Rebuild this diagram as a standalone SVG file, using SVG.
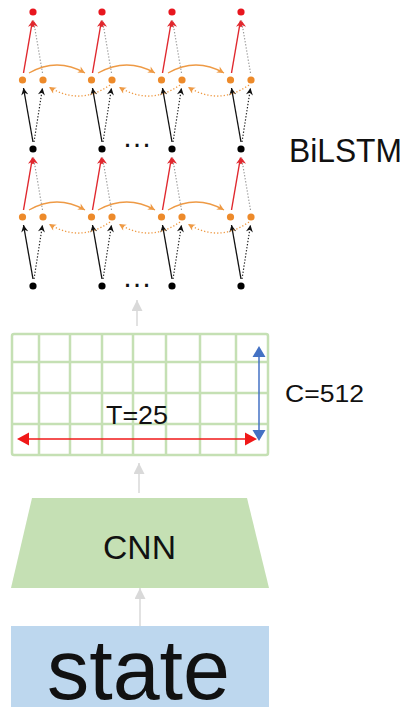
<svg xmlns="http://www.w3.org/2000/svg" width="414" height="716" viewBox="0 0 414 716">
<style>
.lbl{font-family:"Liberation Sans",Arial,sans-serif;fill:#111;}
.red{stroke:#E0282E;stroke-width:1.4;fill:none;}
.gdot{stroke:#9a9a9a;stroke-width:1.2;stroke-dasharray:1.3 1.8;fill:none;}
.blk{stroke:#111;stroke-width:1.3;fill:none;}
.bdot{stroke:#222;stroke-width:1.2;stroke-dasharray:1.3 1.8;fill:none;}
.fwd{stroke:#EE9A45;stroke-width:1.3;fill:none;}
.bwd{stroke:#EE9A45;stroke-width:1.3;stroke-dasharray:1.3 2;fill:none;}
.gray{stroke:#d9d9d9;stroke-width:1.5;fill:none;}
.grid{stroke:#C5E0B4;stroke-width:2.5;fill:none;}
.rd{fill:#E8161E;}
.od{fill:#ED8A2A;}
.bd{fill:#000;}
</style>
<defs>
<marker id="mRed" viewBox="0 0 10 10" refX="10" refY="5" markerWidth="8" markerHeight="7" markerUnits="userSpaceOnUse" orient="auto"><path d="M0,0 L10,5 L0,10 L3,5 z" fill="#E0282E"/></marker>
<marker id="mBlk" viewBox="0 0 10 10" refX="10" refY="5" markerWidth="8" markerHeight="7" markerUnits="userSpaceOnUse" orient="auto"><path d="M0,0 L10,5 L0,10 L3,5 z" fill="#111"/></marker>
<marker id="mOr" viewBox="0 0 10 10" refX="10" refY="5" markerWidth="8" markerHeight="7" markerUnits="userSpaceOnUse" orient="auto"><path d="M0,0 L10,5 L0,10 L3,5 z" fill="#EE9A45"/></marker>
<marker id="mGray" viewBox="0 0 10 10" refX="10" refY="5" markerWidth="12" markerHeight="11" markerUnits="userSpaceOnUse" orient="auto"><path d="M0,0 L10,5 L0,10 z" fill="#d9d9d9"/></marker>
</defs>

<g id="connectors">
  <g id="layer1-conn">
    <g transform="translate(33,0)">
      <path class="red" d="M-9.5,73 L-0.5,20.5" marker-end="url(#mRed)"/>
      <path class="gdot" d="M9.5,73 L0.5,20.5" marker-end="url(#mRed)"/>
      <path class="blk" d="M0,142 L-9.5,88" marker-end="url(#mBlk)"/>
      <path class="bdot" d="M1,142 L9.5,88" marker-end="url(#mBlk)"/>
    </g>
    <g transform="translate(102,0)">
      <path class="red" d="M-9.5,73 L-0.5,20.5" marker-end="url(#mRed)"/>
      <path class="gdot" d="M9.5,73 L0.5,20.5" marker-end="url(#mRed)"/>
      <path class="blk" d="M0,142 L-9.5,88" marker-end="url(#mBlk)"/>
      <path class="bdot" d="M1,142 L9.5,88" marker-end="url(#mBlk)"/>
    </g>
    <g transform="translate(172,0)">
      <path class="red" d="M-9.5,73 L-0.5,20.5" marker-end="url(#mRed)"/>
      <path class="gdot" d="M9.5,73 L0.5,20.5" marker-end="url(#mRed)"/>
      <path class="blk" d="M0,142 L-9.5,88" marker-end="url(#mBlk)"/>
      <path class="bdot" d="M1,142 L9.5,88" marker-end="url(#mBlk)"/>
    </g>
    <g transform="translate(241,0)">
      <path class="red" d="M-9.5,73 L-0.5,20.5" marker-end="url(#mRed)"/>
      <path class="gdot" d="M9.5,73 L0.5,20.5" marker-end="url(#mRed)"/>
      <path class="blk" d="M0,142 L-9.5,88" marker-end="url(#mBlk)"/>
      <path class="bdot" d="M1,142 L9.5,88" marker-end="url(#mBlk)"/>
    </g>
    <path class="fwd" d="M29,73 Q57,57 85,73" marker-end="url(#mOr)"/>
    <path class="fwd" d="M98,73 Q127,57 155,73" marker-end="url(#mOr)"/>
    <path class="fwd" d="M168,73 Q196,57 224,73" marker-end="url(#mOr)"/>
    <path class="bwd" d="M110,85 Q80,106 49,87" marker-end="url(#mOr)"/>
    <path class="bwd" d="M180,85 Q150,106 119,87" marker-end="url(#mOr)"/>
    <path class="bwd" d="M249,85 Q219,106 188,87" marker-end="url(#mOr)"/>
  </g>
  <g id="layer2-conn" transform="translate(0,137)">
    <g transform="translate(33,0)">
      <path class="red" d="M-9.5,73 L-0.5,20.5" marker-end="url(#mRed)"/>
      <path class="gdot" d="M9.5,73 L0.5,20.5" marker-end="url(#mRed)"/>
      <path class="blk" d="M0,142 L-9.5,88" marker-end="url(#mBlk)"/>
      <path class="bdot" d="M1,142 L9.5,88" marker-end="url(#mBlk)"/>
    </g>
    <g transform="translate(102,0)">
      <path class="red" d="M-9.5,73 L-0.5,20.5" marker-end="url(#mRed)"/>
      <path class="gdot" d="M9.5,73 L0.5,20.5" marker-end="url(#mRed)"/>
      <path class="blk" d="M0,142 L-9.5,88" marker-end="url(#mBlk)"/>
      <path class="bdot" d="M1,142 L9.5,88" marker-end="url(#mBlk)"/>
    </g>
    <g transform="translate(172,0)">
      <path class="red" d="M-9.5,73 L-0.5,20.5" marker-end="url(#mRed)"/>
      <path class="gdot" d="M9.5,73 L0.5,20.5" marker-end="url(#mRed)"/>
      <path class="blk" d="M0,142 L-9.5,88" marker-end="url(#mBlk)"/>
      <path class="bdot" d="M1,142 L9.5,88" marker-end="url(#mBlk)"/>
    </g>
    <g transform="translate(241,0)">
      <path class="red" d="M-9.5,73 L-0.5,20.5" marker-end="url(#mRed)"/>
      <path class="gdot" d="M9.5,73 L0.5,20.5" marker-end="url(#mRed)"/>
      <path class="blk" d="M0,142 L-9.5,88" marker-end="url(#mBlk)"/>
      <path class="bdot" d="M1,142 L9.5,88" marker-end="url(#mBlk)"/>
    </g>
    <path class="fwd" d="M29,73 Q57,57 85,73" marker-end="url(#mOr)"/>
    <path class="fwd" d="M98,73 Q127,57 155,73" marker-end="url(#mOr)"/>
    <path class="fwd" d="M168,73 Q196,57 224,73" marker-end="url(#mOr)"/>
    <path class="bwd" d="M110,85 Q80,106 49,87" marker-end="url(#mOr)"/>
    <path class="bwd" d="M180,85 Q150,106 119,87" marker-end="url(#mOr)"/>
    <path class="bwd" d="M249,85 Q219,106 188,87" marker-end="url(#mOr)"/>
  </g>
  <path class="gray" d="M137,326 L137,300" marker-end="url(#mGray)"/>
  <path class="gray" d="M139,493 L139,463" marker-end="url(#mGray)"/>
  <path class="gray" d="M140,626 L140,588" marker-end="url(#mGray)"/>
</g>

<g id="output-row">
  <circle class="rd" cx="33" cy="12" r="3.6"/>
  <circle class="rd" cx="102" cy="12" r="3.6"/>
  <circle class="rd" cx="172" cy="12" r="3.6"/>
  <circle class="rd" cx="241" cy="12" r="3.6"/>
</g>
<g id="lstm2-cells">
  <circle class="od" cx="22.5" cy="80" r="3.6"/><circle class="od" cx="43" cy="80" r="3.6"/>
  <circle class="od" cx="91.5" cy="80" r="3.6"/><circle class="od" cx="112" cy="80" r="3.6"/>
  <circle class="od" cx="161.5" cy="80" r="3.6"/><circle class="od" cx="182" cy="80" r="3.6"/>
  <circle class="od" cx="230.5" cy="80" r="3.6"/><circle class="od" cx="251" cy="80" r="3.6"/>
</g>
<g id="hidden-row">
  <circle class="bd" cx="33" cy="149" r="3.6"/>
  <circle class="bd" cx="102" cy="149" r="3.6"/>
  <circle class="bd" cx="172" cy="149" r="3.6"/>
  <circle class="bd" cx="241" cy="149" r="3.6"/>
  <text class="lbl" x="137" y="147" font-size="30" text-anchor="middle">…</text>
</g>
<g id="lstm1-cells">
  <circle class="od" cx="22.5" cy="217" r="3.6"/><circle class="od" cx="43" cy="217" r="3.6"/>
  <circle class="od" cx="91.5" cy="217" r="3.6"/><circle class="od" cx="112" cy="217" r="3.6"/>
  <circle class="od" cx="161.5" cy="217" r="3.6"/><circle class="od" cx="182" cy="217" r="3.6"/>
  <circle class="od" cx="230.5" cy="217" r="3.6"/><circle class="od" cx="251" cy="217" r="3.6"/>
</g>
<g id="input-row">
  <circle class="bd" cx="33" cy="286" r="3.6"/>
  <circle class="bd" cx="102" cy="286" r="3.6"/>
  <circle class="bd" cx="172" cy="286" r="3.6"/>
  <circle class="bd" cx="241" cy="286" r="3.6"/>
  <text class="lbl" x="137" y="287" font-size="30" text-anchor="middle">…</text>
</g>
<g id="bilstm-label">
  <text class="lbl" x="289" y="162" font-size="33" textLength="113" lengthAdjust="spacingAndGlyphs">BiLSTM</text>
</g>

<g id="feature-map">
  <rect x="12" y="334" width="256" height="121" rx="2" fill="#fff" class="grid"/>
  <path class="grid" d="M39,334 V455 M70,334 V455 M102,334 V455 M133,334 V455 M166,334 V455 M200,334 V455 M236,334 V455 M12,362 H268 M12,393 H268 M12,424 H268"/>
  <text class="lbl" x="106" y="424" font-size="26" textLength="62" lengthAdjust="spacingAndGlyphs">T=25</text>
  <line x1="29" y1="439" x2="245" y2="439" stroke="#F01818" stroke-width="1.5"/>
  <path d="M17,439 L29,432.5 L29,445.5 z M257,439 L245,432.5 L245,445.5 z" fill="#F01818"/>
  <line x1="259" y1="357" x2="259" y2="430" stroke="#4472C4" stroke-width="1.5"/>
  <path d="M259,346 L252.5,357 L265.5,357 z M259,441 L252.5,430 L265.5,430 z" fill="#4472C4"/>
</g>
<g id="c-label">
  <text class="lbl" x="285" y="402" font-size="24" textLength="79" lengthAdjust="spacingAndGlyphs">C=512</text>
</g>

<g id="cnn">
  <path d="M32,498 L247,498 L269,588 L11,588 z" fill="#C5E0B4"/>
  <text class="lbl" x="103" y="559" font-size="34" textLength="73" lengthAdjust="spacingAndGlyphs">CNN</text>
</g>

<g id="state">
  <rect x="11" y="626" width="258" height="81" fill="#BDD7EE"/>
  <text class="lbl" x="47" y="699" font-size="85" textLength="183" lengthAdjust="spacingAndGlyphs">state</text>
</g>
</svg>
